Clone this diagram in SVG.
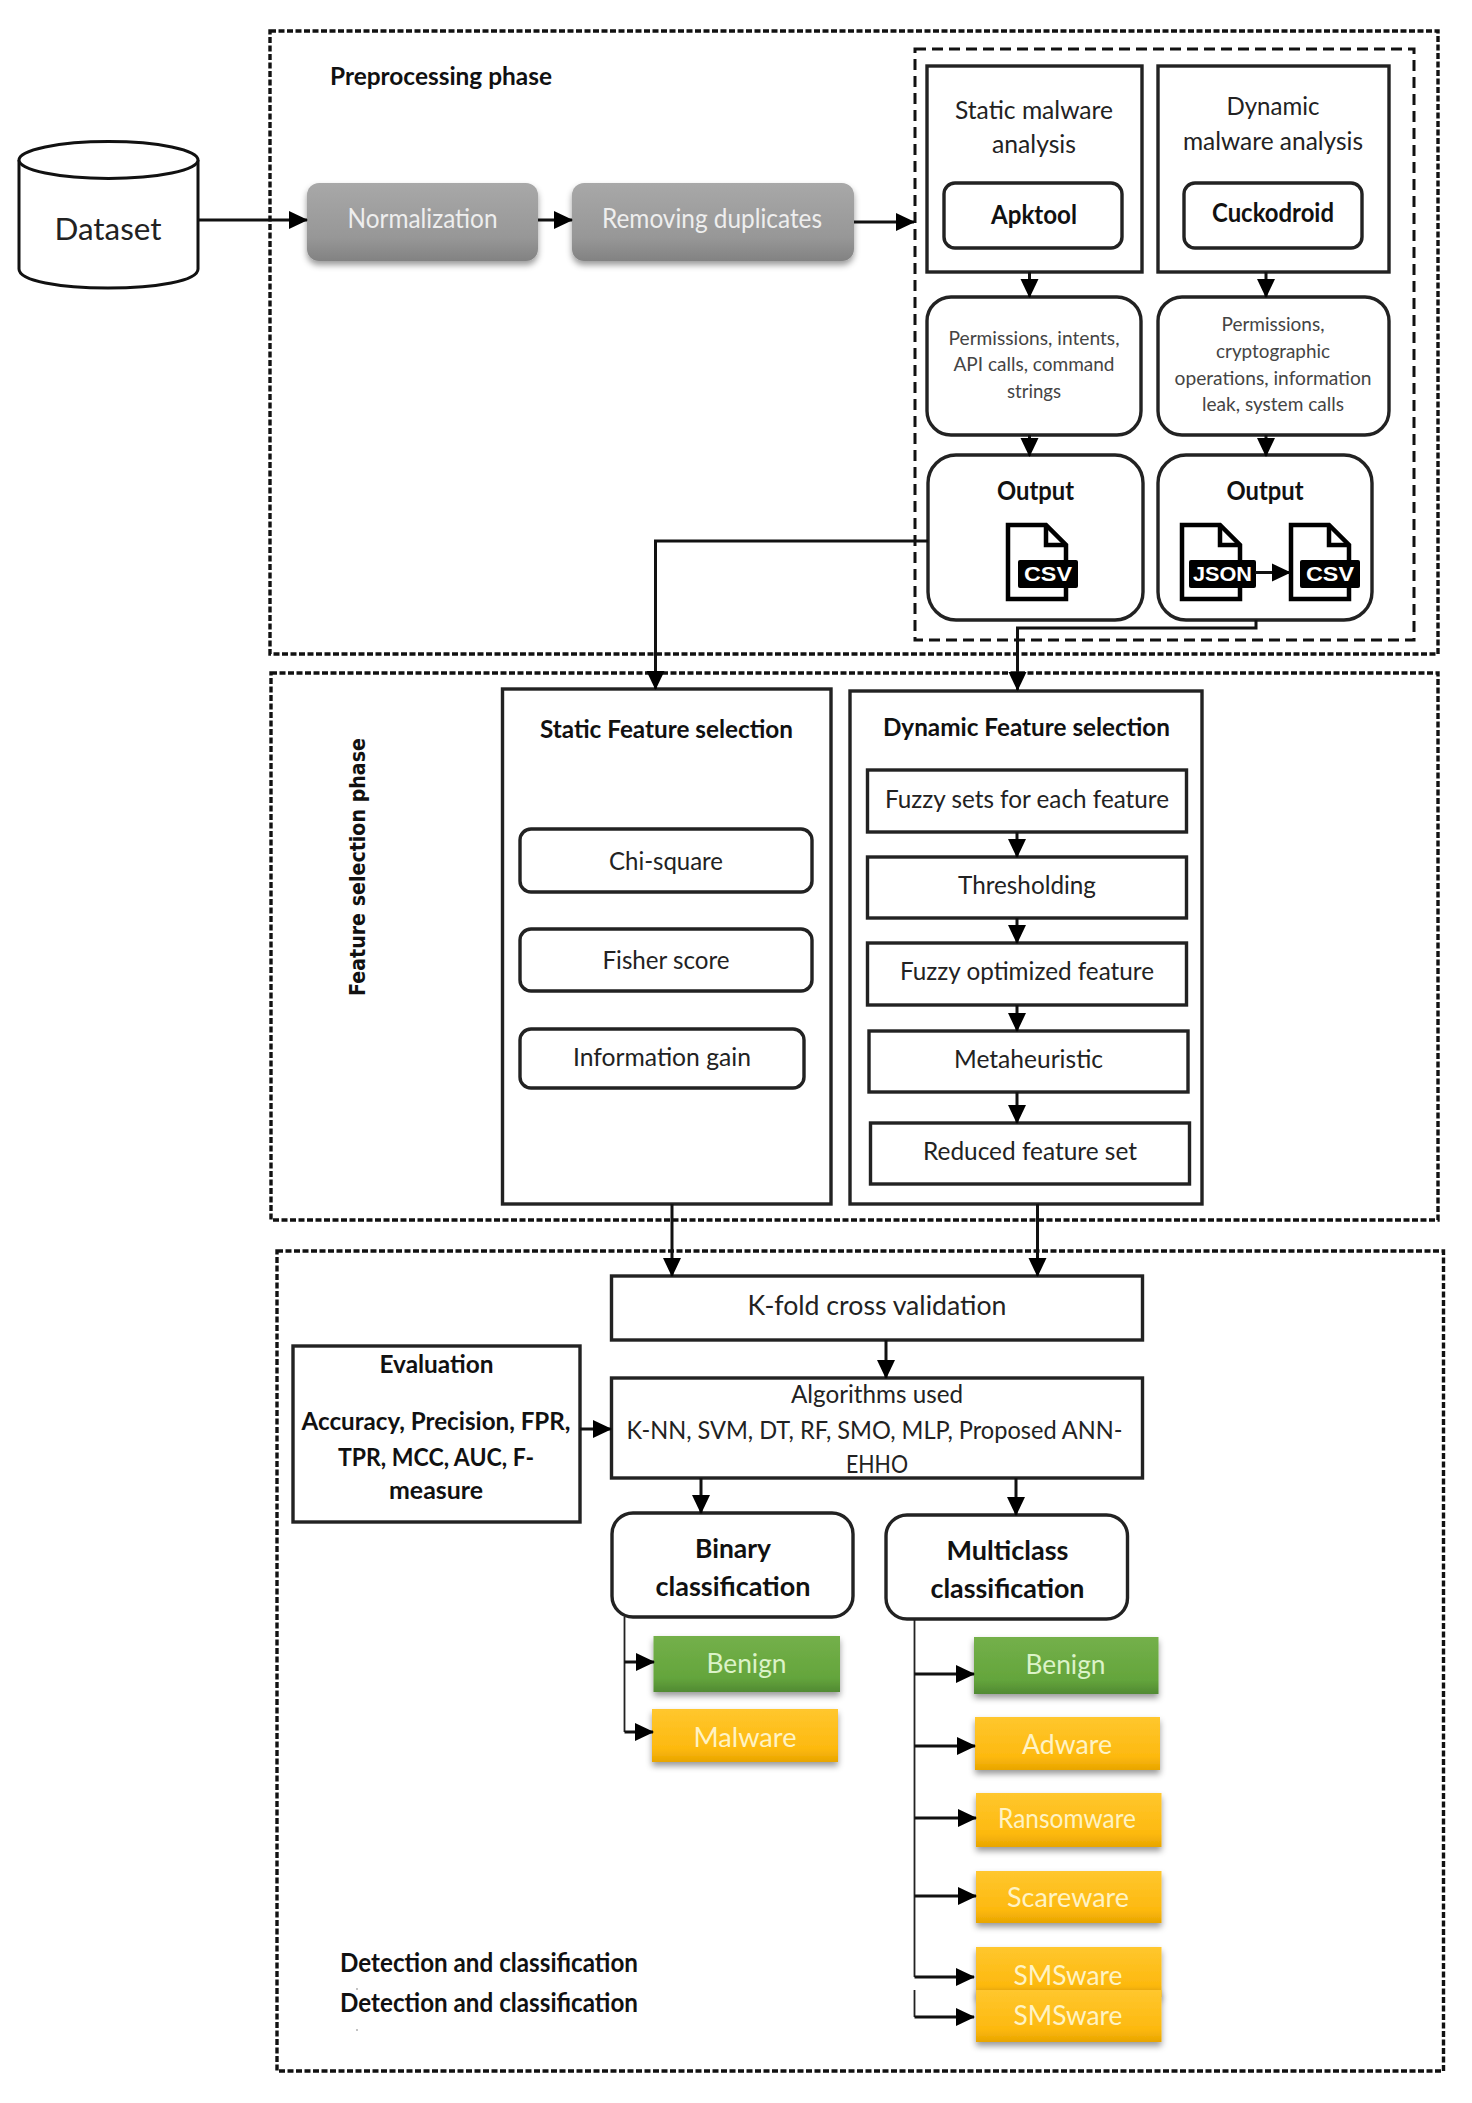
<svg xmlns="http://www.w3.org/2000/svg" width="1472" height="2103" viewBox="0 0 1472 2103">
<style>
text{font-family:Lato,"Open Sans","Liberation Sans",sans-serif;fill:#222;text-anchor:middle;font-size:25px}
.b{font-weight:700;fill:#111}
.sm{font-size:20px;fill:#444}
.w{fill:#eeeeee;font-size:26px}
.g{fill:#dcf3c8;font-size:26px}
.y{fill:#fff3c4;font-size:26px}
.phase{fill:none;stroke:#111;stroke-width:3.400;stroke-dasharray:6 2.500}
.inner{fill:none;stroke:#111;stroke-width:3;stroke-dasharray:11 6}
.box{fill:#fff;stroke:#222;stroke-width:3.400}
.c{fill:none;stroke:#111;stroke-width:3}
.c1{fill:none;stroke:#222;stroke-width:1.800}
.lbl{font-family:"Liberation Sans",sans-serif;font-weight:700;fill:#fff;font-size:20px}
</style>
<defs>
<marker id="a" markerUnits="userSpaceOnUse" markerWidth="20" markerHeight="20" viewBox="0 0 20 20" refX="18" refY="10" orient="auto"><path d="M0 1 L19 10 L0 19 Z" fill="#000"/></marker>
<linearGradient id="gr" x1="0" y1="0" x2="0" y2="1"><stop offset="0" stop-color="#a8a8a8"/><stop offset="0.7" stop-color="#979797"/><stop offset="1" stop-color="#828282"/></linearGradient>
<linearGradient id="gn" x1="0" y1="0" x2="0" y2="1"><stop offset="0" stop-color="#74b04a"/><stop offset="0.75" stop-color="#64a53c"/><stop offset="1" stop-color="#518a33"/></linearGradient>
<linearGradient id="or" x1="0" y1="0" x2="0" y2="1"><stop offset="0" stop-color="#ffc72e"/><stop offset="0.75" stop-color="#fdb90f"/><stop offset="1" stop-color="#e8a500"/></linearGradient>
<filter id="s" x="-10%" y="-20%" width="120%" height="150%"><feDropShadow dx="0" dy="4" stdDeviation="3" flood-color="#000" flood-opacity="0.4"/></filter>
<g id="doc"><path d="M1 1 H39 L59 21 V75 H1 Z" fill="#fff" stroke="#000" stroke-width="4.500"/><path d="M39 1 V21 H59" fill="none" stroke="#000" stroke-width="4.500"/></g>
</defs>

<g id="phases">
<rect class="phase" x="270" y="31" width="1168" height="623"/>
<rect class="phase" x="271" y="673" width="1167" height="547"/>
<rect class="phase" x="277" y="1251" width="1166.500" height="820"/>
<rect class="inner" x="915" y="49" width="499" height="591"/>
<text id="preprocessing-label" class="b" x="441" y="85" style="font-size:24px" textLength="222" lengthAdjust="spacingAndGlyphs">Preprocessing phase</text>
<text id="feature-label" transform="translate(365 867) rotate(-90)" style="font-family:'DejaVu Sans',sans-serif;font-weight:700;font-size:21px;fill:#111" textLength="258" lengthAdjust="spacingAndGlyphs">Feature selection phase</text>
<text id="detection-label-1" class="b" x="489" y="1972" style="font-size:26px" textLength="298" lengthAdjust="spacingAndGlyphs">Detection and classification</text>
<text id="detection-label-2" class="b" x="489" y="2012" style="font-size:26px" textLength="298" lengthAdjust="spacingAndGlyphs">Detection and classification</text>
<circle cx="357" cy="1989" r="0.800" fill="#777"/><circle cx="357" cy="2030" r="0.800" fill="#777"/>
</g>

<g id="dataset">
<path d="M19 160 V269 C19 281 60 288 108 288 C156 288 198 281 198 269 V160" fill="#fff" stroke="#111" stroke-width="3"/>
<ellipse cx="108.500" cy="160" rx="89.500" ry="18.500" fill="#fff" stroke="#111" stroke-width="3"/>
<text x="108" y="240" style="font-size:31px" textLength="107" lengthAdjust="spacingAndGlyphs">Dataset</text>
</g>
<g id="normalization"><rect x="307" y="183" width="231" height="78" rx="12" fill="url(#gr)" filter="url(#s)"/><text class="w" x="422.500" y="228" textLength="150" lengthAdjust="spacingAndGlyphs">Normalization</text></g>
<g id="removing-duplicates"><rect x="572" y="183" width="282" height="78" rx="12" fill="url(#gr)" filter="url(#s)"/><text class="w" x="712" y="228" textLength="220" lengthAdjust="spacingAndGlyphs">Removing duplicates</text></g>

<g id="static-analysis">
<rect class="box" x="927" y="66" width="215" height="206"/>
<text x="1034" y="119" textLength="158" lengthAdjust="spacingAndGlyphs">Static malware</text>
<text x="1034" y="153" textLength="84" lengthAdjust="spacingAndGlyphs">analysis</text>
<rect class="box" x="944" y="183" width="178" height="65" rx="11"/>
<text class="b" x="1034" y="224" style="font-size:26px" textLength="86" lengthAdjust="spacingAndGlyphs">Apktool</text>
</g>
<g id="dynamic-analysis">
<rect class="box" x="1158" y="66" width="231" height="206"/>
<text x="1273" y="115" textLength="93" lengthAdjust="spacingAndGlyphs">Dynamic</text>
<text x="1273" y="150" textLength="180" lengthAdjust="spacingAndGlyphs">malware analysis</text>
<rect class="box" x="1184" y="183" width="178" height="65" rx="11"/>
<text class="b" x="1273" y="222" style="font-size:26px" textLength="122" lengthAdjust="spacingAndGlyphs">Cuckodroid</text>
</g>
<g id="static-features">
<rect class="box" x="927" y="297" width="214" height="138" rx="24"/>
<text class="sm" x="1034" y="345" textLength="171" lengthAdjust="spacingAndGlyphs">Permissions, intents,</text>
<text class="sm" x="1034" y="371" textLength="161" lengthAdjust="spacingAndGlyphs">API calls, command</text>
<text class="sm" x="1034" y="398" textLength="54" lengthAdjust="spacingAndGlyphs">strings</text>
</g>
<g id="dynamic-features">
<rect class="box" x="1158" y="297" width="231" height="138" rx="24"/>
<text class="sm" x="1273" y="331" textLength="103" lengthAdjust="spacingAndGlyphs">Permissions,</text>
<text class="sm" x="1273" y="358" textLength="114" lengthAdjust="spacingAndGlyphs">cryptographic</text>
<text class="sm" x="1273" y="385" textLength="197" lengthAdjust="spacingAndGlyphs">operations, information</text>
<text class="sm" x="1273" y="411" textLength="142" lengthAdjust="spacingAndGlyphs">leak, system calls</text>
</g>
<g id="static-output">
<rect class="box" x="928" y="455" width="215" height="165" rx="28"/>
<text class="b" x="1035.500" y="500" style="font-size:26px" textLength="77" lengthAdjust="spacingAndGlyphs">Output</text>
<use href="#doc" x="1007" y="524"/>
<rect x="1018" y="560" width="60" height="28" rx="2" fill="#000"/>
<text class="lbl" x="1048" y="581" textLength="48" lengthAdjust="spacingAndGlyphs">CSV</text>
</g>
<g id="dynamic-output">
<rect class="box" x="1158" y="455" width="214" height="165" rx="28"/>
<text class="b" x="1265" y="500" style="font-size:26px" textLength="77" lengthAdjust="spacingAndGlyphs">Output</text>
<use href="#doc" x="1181" y="524"/>
<rect x="1189" y="560" width="67" height="28" rx="2" fill="#000"/>
<text class="lbl" x="1222.500" y="581" textLength="59" lengthAdjust="spacingAndGlyphs">JSON</text>
<use href="#doc" x="1290" y="524"/>
<rect x="1300" y="560" width="60" height="28" rx="2" fill="#000"/>
<text class="lbl" x="1330" y="581" textLength="48" lengthAdjust="spacingAndGlyphs">CSV</text>
</g>

<g id="static-selection">
<rect class="box" x="502.500" y="689" width="328.500" height="515"/>
<text class="b" x="666.500" y="738" style="font-size:25px" textLength="253" lengthAdjust="spacingAndGlyphs">Static Feature selection</text>
<rect class="box" x="520" y="829" width="292" height="63" rx="11"/>
<text x="666" y="870" textLength="114" lengthAdjust="spacingAndGlyphs">Chi-square</text>
<rect class="box" x="520" y="929" width="292" height="62" rx="11"/>
<text x="666" y="969" textLength="127" lengthAdjust="spacingAndGlyphs">Fisher score</text>
<rect class="box" x="520" y="1029" width="284" height="59" rx="11"/>
<text x="662" y="1066" textLength="178" lengthAdjust="spacingAndGlyphs">Information gain</text>
</g>
<g id="dynamic-selection">
<rect class="box" x="850" y="691" width="352" height="513"/>
<text class="b" x="1026.500" y="736" style="font-size:25px" textLength="287" lengthAdjust="spacingAndGlyphs">Dynamic Feature selection</text>
<rect class="box" x="867.500" y="770" width="319" height="62"/>
<text x="1027" y="808" textLength="284" lengthAdjust="spacingAndGlyphs">Fuzzy sets for each feature</text>
<rect class="box" x="867.500" y="857" width="319" height="61"/>
<text x="1027" y="894" textLength="138" lengthAdjust="spacingAndGlyphs">Thresholding</text>
<rect class="box" x="867.500" y="943" width="319" height="62"/>
<text x="1027" y="980" textLength="254" lengthAdjust="spacingAndGlyphs">Fuzzy optimized feature</text>
<rect class="box" x="869" y="1031" width="319" height="61"/>
<text x="1028.500" y="1068" textLength="149" lengthAdjust="spacingAndGlyphs">Metaheuristic</text>
<rect class="box" x="870.500" y="1123" width="319" height="61"/>
<text x="1030" y="1160" textLength="214" lengthAdjust="spacingAndGlyphs">Reduced feature set</text>
</g>

<g id="kfold"><rect class="box" x="611.500" y="1276" width="531" height="64"/><text x="877" y="1315" style="font-size:27px" textLength="259" lengthAdjust="spacingAndGlyphs">K-fold cross validation</text></g>
<g id="algorithms">
<rect class="box" x="611.500" y="1378" width="531" height="100"/>
<text x="877" y="1403" textLength="172" lengthAdjust="spacingAndGlyphs">Algorithms used</text>
<text x="874.500" y="1439" textLength="496" lengthAdjust="spacingAndGlyphs">K-NN, SVM, DT, RF, SMO, MLP, Proposed ANN-</text>
<text x="877" y="1473" textLength="62" lengthAdjust="spacingAndGlyphs">EHHO</text>
</g>
<g id="evaluation">
<rect class="box" x="293" y="1346" width="287" height="176"/>
<text class="b" x="436.500" y="1373" textLength="114" lengthAdjust="spacingAndGlyphs">Evaluation</text>
<text class="b" x="436" y="1430" textLength="269" lengthAdjust="spacingAndGlyphs">Accuracy, Precision, FPR,</text>
<text class="b" x="436" y="1466" textLength="196" lengthAdjust="spacingAndGlyphs">TPR, MCC, AUC, F-</text>
<text class="b" x="436" y="1499" textLength="94" lengthAdjust="spacingAndGlyphs">measure</text>
</g>
<g id="binary">
<rect class="box" x="612" y="1513" width="241" height="104" rx="21"/>
<text class="b" x="733" y="1558" style="font-size:27px" textLength="76" lengthAdjust="spacingAndGlyphs">Binary</text>
<text class="b" x="733" y="1596" style="font-size:27px" textLength="155" lengthAdjust="spacingAndGlyphs">classification</text>
</g>
<g id="multiclass">
<rect class="box" x="886" y="1515" width="241.500" height="104" rx="21"/>
<text class="b" x="1007.500" y="1560" style="font-size:27px" textLength="122" lengthAdjust="spacingAndGlyphs">Multiclass</text>
<text class="b" x="1007.500" y="1598" style="font-size:27px" textLength="154" lengthAdjust="spacingAndGlyphs">classification</text>
</g>
<g id="binary-benign"><rect x="653.500" y="1636" width="186.500" height="56" fill="url(#gn)" filter="url(#s)"/><text class="g" x="746.500" y="1673" textLength="80" lengthAdjust="spacingAndGlyphs">Benign</text></g>
<g id="binary-malware"><rect x="652" y="1709" width="186" height="53" fill="url(#or)" filter="url(#s)"/><text class="y" x="745" y="1747" textLength="103" lengthAdjust="spacingAndGlyphs">Malware</text></g>
<g id="multi-benign"><rect x="974" y="1637" width="184.500" height="57" fill="url(#gn)" filter="url(#s)"/><text class="g" x="1065.500" y="1674" textLength="80" lengthAdjust="spacingAndGlyphs">Benign</text></g>
<g id="multi-adware"><rect x="975" y="1717" width="185" height="53" fill="url(#or)" filter="url(#s)"/><text class="y" x="1067" y="1754" textLength="90" lengthAdjust="spacingAndGlyphs">Adware</text></g>
<g id="multi-ransomware"><rect x="976" y="1793" width="185.500" height="54" fill="url(#or)" filter="url(#s)"/><text class="y" x="1067" y="1828" textLength="138" lengthAdjust="spacingAndGlyphs">Ransomware</text></g>
<g id="multi-scareware"><rect x="976" y="1871" width="185.500" height="52" fill="url(#or)" filter="url(#s)"/><text class="y" x="1068" y="1907" textLength="122" lengthAdjust="spacingAndGlyphs">Scareware</text></g>
<g id="multi-smsware-1"><rect x="976" y="1947" width="185.500" height="50" fill="url(#or)" filter="url(#s)"/><text class="y" x="1068" y="1985" textLength="109" lengthAdjust="spacingAndGlyphs">SMSware</text></g>
<g id="multi-smsware-2"><rect x="976" y="1990" width="185.500" height="52" fill="url(#or)" filter="url(#s)"/><text class="y" x="1068" y="2025" textLength="109" lengthAdjust="spacingAndGlyphs">SMSware</text></g>

<g id="connectors">
<path class="c" d="M198 220 H307" marker-end="url(#a)"/>
<path class="c" d="M538 220 H572" marker-end="url(#a)"/>
<path class="c" d="M854 222 H914" marker-end="url(#a)"/>
<path class="c" d="M1029.500 272 V297" marker-end="url(#a)"/>
<path class="c" d="M1266 272 V297" marker-end="url(#a)"/>
<path class="c" d="M1029.500 435 V456" marker-end="url(#a)"/>
<path class="c" d="M1266 435 V456" marker-end="url(#a)"/>
<path class="c" d="M1255 572.500 H1290" marker-end="url(#a)"/>
<path class="c" d="M928 541 H655.500 V689" marker-end="url(#a)"/>
<path class="c" d="M1256 620 V628 H1017.500 V690" marker-end="url(#a)"/>
<path class="c" d="M1017 832 V857" marker-end="url(#a)"/>
<path class="c" d="M1017 918 V943" marker-end="url(#a)"/>
<path class="c" d="M1017 1005 V1031" marker-end="url(#a)"/>
<path class="c" d="M1017 1092 V1123" marker-end="url(#a)"/>
<path class="c" d="M672 1204 V1276" marker-end="url(#a)"/>
<path class="c" d="M1037.500 1204 V1276" marker-end="url(#a)"/>
<path class="c" d="M886 1340 V1378" marker-end="url(#a)"/>
<path class="c" d="M580 1429 H611" marker-end="url(#a)"/>
<path class="c" d="M701 1478 V1513" marker-end="url(#a)"/>
<path class="c" d="M1016 1478 V1515" marker-end="url(#a)"/>
<path class="c1" d="M624.500 1617 V1732"/>
<path class="c" d="M624.500 1662 H654" marker-end="url(#a)"/>
<path class="c" d="M624.500 1732 H653" marker-end="url(#a)"/>
<path class="c1" d="M914.500 1619 V1977"/>
<path class="c1" d="M914.500 1990 V2017"/>
<path class="c" d="M914.500 1674 H974" marker-end="url(#a)"/>
<path class="c" d="M914.500 1746 H975" marker-end="url(#a)"/>
<path class="c" d="M914.500 1818 H976" marker-end="url(#a)"/>
<path class="c" d="M914.500 1896 H976" marker-end="url(#a)"/>
<path class="c" d="M914.500 1977 H974" marker-end="url(#a)"/>
<path class="c" d="M914.500 2017 H974" marker-end="url(#a)"/>
</g>
</svg>
